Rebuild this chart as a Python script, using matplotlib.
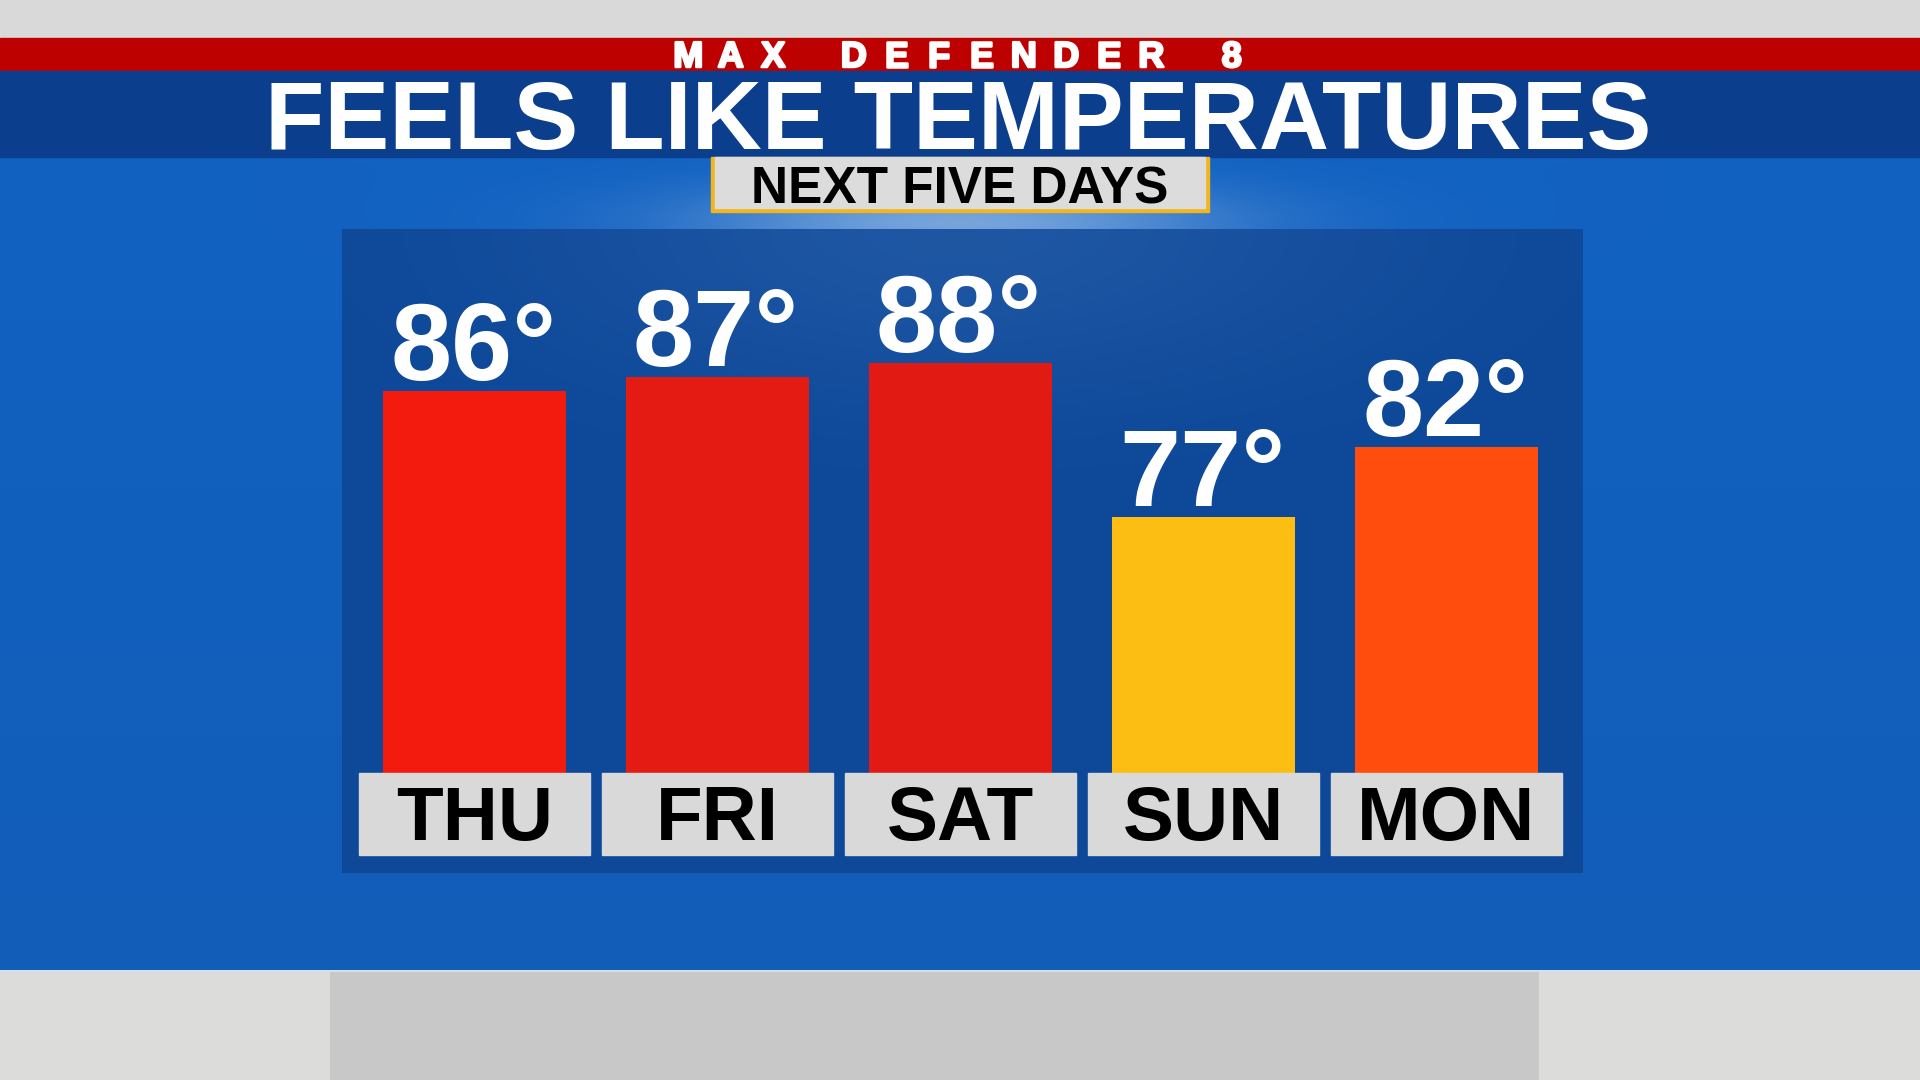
"""
Feels-like temperature graphic: five day bar chart on a TV weather board
"""

import numpy as np
import matplotlib.pyplot as plt
import matplotlib.patheffects as pe
from matplotlib.patches import Rectangle
from matplotlib.transforms import blended_transform_factory

days = ["THU", "FRI", "SAT", "SUN", "MON"]
feels_like = [86, 87, 88, 77, 82]

brand = "MAX DEFENDER 8"
title = "FEELS LIKE TEMPERATURES"
subtitle = "NEXT FIVE DAYS"

bar_colors = ["#F31A0E", "#E41B12", "#E21A14", "#FDBE14", "#FF4D0E"]

W, H = 1920, 1080
BASE = 58.7          # temperature at the foot of the bars
FONT = "Liberation Sans"


def rgb(h):
    h = h.lstrip("#")
    return np.array([int(h[i:i + 2], 16) for i in (0, 2, 4)]) / 255.0


def background_image():
    """Sky blue board with a soft light glow under the subtitle box"""
    y, x = np.mgrid[0:H, 0:W].astype(float)
    img = np.empty((H, W, 3))
    img[:] = rgb("#1262C2")

    # slightly darker towards the bottom of the sky
    shade = 1 - 0.05 * np.clip((y - 157) / 800, 0, 1)
    img *= shade[..., None]

    glow = np.exp(-(((x - 960) / 260) ** 2 + ((y - 222) / 40) ** 2)) * 0.55
    img = img * (1 - glow[..., None]) + glow[..., None] * rgb("#C8DCF2")

    # the dark panel that holds the bars
    panel = (x >= 342) & (x <= 1582) & (y >= 229) & (y <= 872)
    pglow = np.exp(-(((x - 960) / 420) ** 2 + ((y - 229) / 160) ** 2)) * 0.18
    pcol = rgb("#0D4899")
    pimg = pcol * (1 - pglow[..., None]) + pglow[..., None] * rgb("#6E9AD0")
    img[panel] = pimg[panel]

    # grey studio strips top and bottom
    img[:37] = rgb("#D9D9D9")
    img[37:39] = rgb("#E6DCC8")
    img[970:] = rgb("#DCDCDA")
    img[970:972] = rgb("#D6E0EA")
    img[972:, 330:1539] = rgb("#C8C8C8")
    return np.clip(img, 0, 1)


def draw_board():
    fig = plt.figure(figsize=(W / 100, H / 100), dpi=100)

    bg = fig.add_axes([0, 0, 1, 1], zorder=0)
    bg.imshow(background_image(), extent=[0, W, H, 0], aspect="auto",
              interpolation="bilinear")
    bg.set_xlim(0, W)
    bg.set_ylim(H, 0)
    bg.axis("off")

    # header bands
    bg.add_patch(Rectangle((0, 38), W, 33, color="#BD0000"))
    bg.add_patch(Rectangle((0, 71), W, 86, color="#0C3E8E"))

    # spaced out brand line, wide heavy letters
    pitch, gap = 42.5, 38
    widths = [gap if c == " " else pitch for c in brand]
    total = sum(widths) - pitch
    cx = 960 - total / 2
    for c, w in zip(brand, widths):
        if c != " ":
            bg.text(cx, 67, c, color="white", fontsize=26, fontweight="bold",
                    family=FONT, ha="center", va="baseline",
                    path_effects=[pe.withStroke(linewidth=1.8,
                                                foreground="white")])
        cx += w

    bg.text(958, 149, title, color="white", fontsize=70, fontweight="bold",
            family=FONT, ha="center", va="baseline")

    # subtitle tab with gold trim
    bg.add_patch(Rectangle((711, 157), 498, 55, color="#F2B51C"))
    bg.add_patch(Rectangle((715, 157), 490, 51, color="#DCDCDC"))
    bg.text(960, 203, subtitle, color="black", fontsize=37, fontweight="bold",
            family=FONT, ha="center", va="baseline")

    # bar axes: category x, degrees y; spans the panel
    left, right = 353, 1568
    top, bottom = 229, 872
    ax = fig.add_axes([left / W, 1 - bottom / H, (right - left) / W,
                       (bottom - top) / H], zorder=1)
    ax.patch.set_alpha(0)
    px_per_deg = 14.0
    ax.set_xlim(-0.5, len(days) - 0.5)
    ax.set_ylim(BASE - (bottom - 773) / px_per_deg,
                BASE + (773 - top) / px_per_deg)
    ax.axis("off")

    xs = np.arange(len(days))
    heights = [v - BASE for v in feels_like]
    ax.bar(xs, heights, bottom=BASE, width=0.75, color=bar_colors)

    for x, v in zip(xs, feels_like):
        ax.annotate(f"{v}°", (x, v), xytext=(-1, 8), textcoords="offset points",
                    ha="center", va="baseline", color="white", fontsize=79,
                    fontweight="bold", family=FONT)

    # day name tiles under the bars
    trans = blended_transform_factory(ax.transData, bg.transData)
    for x, d in zip(xs, days):
        ax.add_patch(Rectangle((x - 0.475, 773), 0.95, 82, transform=trans,
                               color="#D9D9D9", clip_on=False))
        ax.text(x, 840, d, transform=trans, ha="center", va="baseline",
                color="black", fontsize=55, fontweight="bold", family=FONT)

    fig.savefig("out.png", dpi=100)


if __name__ == "__main__":
    draw_board()
